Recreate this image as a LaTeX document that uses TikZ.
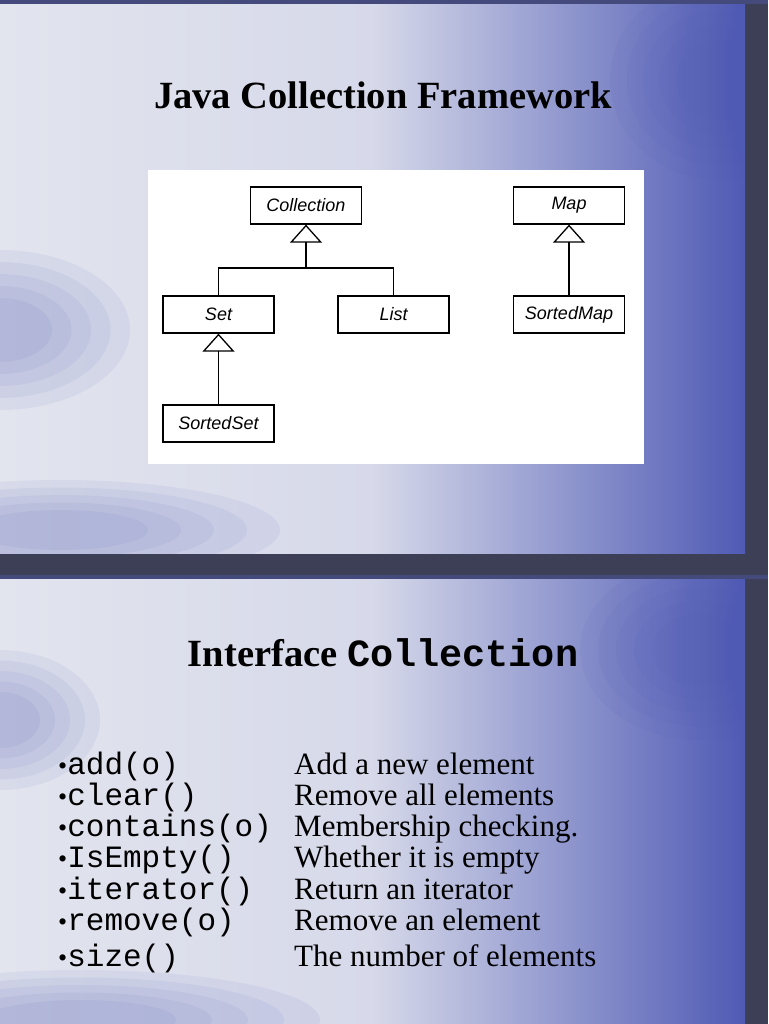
\documentclass[tikz,border=0pt]{standalone}
\usepackage{fontspec}
\setmainfont{Liberation Serif}
\setsansfont{Liberation Sans}
\setmonofont{Liberation Mono}
\usetikzlibrary{arrows.meta}
\definecolor{lt}{HTML}{E2E4EE}
\definecolor{bl}{HTML}{4F5AB4}
\definecolor{frame}{HTML}{3C3F55}
\tikzset{
 cls/.style={draw,line width=1.3pt,fill=white,minimum width=111pt,minimum height=37pt,inner sep=0pt,font=\sffamily\itshape\fontsize{18}{18}\selectfont},
 inh/.style={-{Triangle[open,width=32pt,length=18pt]},line width=1.3pt},
 mono/.style={anchor=base west,font=\ttfamily\fontsize{31}{31}\selectfont,inner sep=0pt},
 desc/.style={anchor=base west,font=\fontsize{31}{31}\selectfont,inner sep=0pt}
}
\newcommand{\softblob}[3]{\foreach \k in {1,0.85,0.7,0.55,0.4}{\fill[bl,opacity=0.07] (#1) ellipse ({#2*\k} and {#3*\k});}}
\begin{document}
\begin{tikzpicture}[x=1pt,y=-1pt]
\useasboundingbox (0,0) rectangle (768,1024);
\fill[frame] (0,0) rectangle (768,1024);
\shade[left color=lt,right color=bl,middle color=lt!92!bl] (0,0) rectangle (745,553);
\shade[left color=lt,right color=bl,middle color=lt!92!bl] (0,575) rectangle (745,1024);
\begin{scope}
\clip (0,0) rectangle (745,553);
\softblob{0,330}{130}{80}
\softblob{60,530}{220}{50}
\softblob{720,80}{110}{100}
\end{scope}
\begin{scope}
\clip (0,575) rectangle (745,1024);
\softblob{0,720}{100}{70}
\softblob{80,1020}{240}{50}
\softblob{700,650}{120}{90}
\end{scope}
\fill[frame!60!bl] (0,0) rectangle (768,4);
\fill[frame!60!bl] (0,575) rectangle (768,579);
\node[font=\bfseries\fontsize{38.5}{38.5}\selectfont] (t1) at (383,95) {Java Collection Framework};
\fill[white] (148,170) rectangle (644,464);
\node[cls] (coll) at (306,205.5) {Collection};
\node[cls] (map) at (569,205.5) {Map};
\node[cls] (set) at (218.5,314.5) {Set};
\node[cls] (list) at (393.5,314.5) {List};
\node[cls] (smap) at (569,314.5) {SortedMap};
\node[cls] (sset) at (218.5,423.5) {SortedSet};
\coordinate (j) at (306,268);
\draw[inh] (j) -- (coll.south);
\draw[line width=1.3pt] (set.north) |- (j) -| (list.north);
\draw[inh] (smap) -- (map.south);
\draw[inh] (sset) -- (set.south);
\node[anchor=base,inner sep=0pt] (t2) at (383,666) {\bfseries\fontsize{38.5}{38.5}\selectfont Interface \ttfamily\fontsize{38.5}{38.5}\selectfont Collection};
\foreach \m/\d/\y [count=\i] in {add(o)/Add a new element/774,clear()/Remove all elements/805,contains(o)/Membership checking./836,IsEmpty()/Whether it is empty/867,iterator()/Return an iterator/899,remove(o)/Remove an element/930,size()/The number of elements/966}{
 \node[mono] (m\i) at (58,\y) {{\rmfamily\fontsize{26}{26}\selectfont•}\m};
 \node[desc] (d\i) at (294,\y) {\d};
}
\end{tikzpicture}
\end{document}
